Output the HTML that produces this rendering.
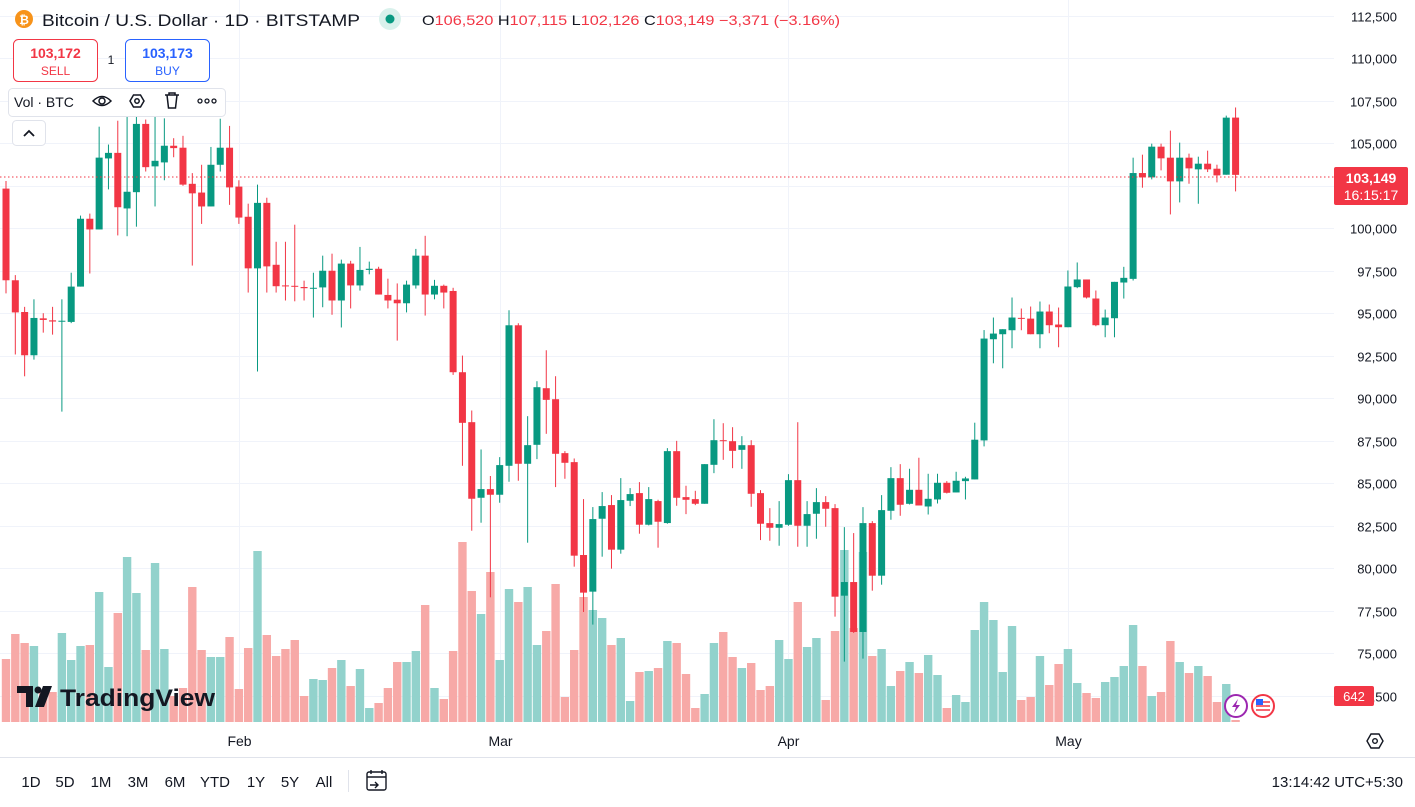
<!DOCTYPE html>
<html><head><meta charset="utf-8">
<style>
html,body{margin:0;padding:0;background:#fff;}
body{width:1415px;height:802px;overflow:hidden;font-family:"Liberation Sans",sans-serif;}
svg text{font-family:"Liberation Sans",sans-serif;}
</style></head>
<body>
<svg id="chart" width="1415" height="802" viewBox="0 0 1415 802" xmlns="http://www.w3.org/2000/svg">
  <rect x="0" y="0" width="1415" height="802" fill="#ffffff"/>
  <g id="grid"></g>
  <g id="vol"></g>
  <g id="candles"></g>
  <line x1="0" y1="177" x2="1334" y2="177" stroke="#F23645" stroke-width="1" stroke-dasharray="1.5,2.5"/>
  <g id="yaxis"></g>
  <g id="xaxis"></g>

  <!-- header -->
  <g>
    <circle cx="24" cy="19" r="9" fill="#F7931A"/>
    <text x="24" y="24" font-size="12" font-weight="bold" fill="#fff" text-anchor="middle">₿</text>
    <text x="42" y="26" font-size="17" fill="#131722" textLength="318" lengthAdjust="spacingAndGlyphs">Bitcoin / U.S. Dollar · 1D · BITSTAMP</text>
    <circle cx="390" cy="19" r="11" fill="#d9f1ec"/>
    <circle cx="390" cy="19" r="4.5" fill="#089981"/>
    <text x="422" y="25" font-size="14" fill="#F23645" textLength="418" lengthAdjust="spacingAndGlyphs"><tspan fill="#131722">O</tspan>106,520 <tspan fill="#131722">H</tspan>107,115 <tspan fill="#131722">L</tspan>102,126 <tspan fill="#131722">C</tspan>103,149 −3,371 (−3.16%)</text>
  </g>
  <g>
    <rect x="13.5" y="39.5" width="84" height="42" rx="5" fill="#fff" stroke="#F23645"/>
    <text x="55.5" y="58" font-size="14" font-weight="bold" fill="#F23645" text-anchor="middle">103,172</text>
    <text x="55.5" y="75" font-size="12" fill="#F23645" text-anchor="middle">SELL</text>
  </g>
  <text x="111" y="64" font-size="12" fill="#131722" text-anchor="middle">1</text>
  <g>
    <rect x="125.5" y="39.5" width="84" height="42" rx="5" fill="#fff" stroke="#2962FF"/>
    <text x="167.5" y="58" font-size="14" font-weight="bold" fill="#2962FF" text-anchor="middle">103,173</text>
    <text x="167.5" y="75" font-size="12" fill="#2962FF" text-anchor="middle">BUY</text>
  </g>
  <g>
    <rect x="8.5" y="88.5" width="217" height="28" rx="4" fill="#fff" stroke="#e0e3eb"/>
    <text x="14" y="107" font-size="14" fill="#131722">Vol · BTC</text>
    <g fill="none" stroke="#131722" stroke-width="1.5">
      <path d="M93 101 Q102 92 111 101 Q102 110 93 101 Z"/><circle cx="102" cy="101" r="3"/>
    </g>
    <g fill="none" stroke="#131722" stroke-width="1.5">
      <polygon points="130,101 133.5,95 140.5,95 144,101 140.5,107 133.5,107"/><circle cx="137" cy="101" r="2.2"/>
    </g>
    <g fill="none" stroke="#131722" stroke-width="1.5">
      <path d="M165 95 H179 M169 95 V93 H175 V95 M167 95 L168.5 108 H175.5 L177 95"/>
    </g>
    <g fill="none" stroke="#131722" stroke-width="1.3">
      <circle cx="200" cy="101" r="2"/><circle cx="207" cy="101" r="2"/><circle cx="214" cy="101" r="2"/>
    </g>
  </g>
  <g>
    <rect x="12.5" y="120.5" width="33" height="25" rx="4" fill="#fff" stroke="#e0e3eb"/>
    <path d="M24 136 L29 131 L34 136" fill="none" stroke="#131722" stroke-width="1.8"/>
  </g>

  <!-- last price label -->
  <g>
    <rect x="1334" y="167" width="74" height="38" rx="2" fill="#F23645"/>
    <text x="1371" y="183" font-size="14" font-weight="bold" fill="#fff" text-anchor="middle">103,149</text>
    <text x="1371" y="200" font-size="14" fill="#fff" text-anchor="middle">16:15:17</text>
  </g>
  <g>
    <rect x="1334" y="686" width="40" height="20" rx="2" fill="#F23645"/>
    <text x="1354" y="701" font-size="13" fill="#fff" text-anchor="middle">642</text>
  </g>

  <!-- TradingView logo -->
  <g>
    <path d="M17 686 H33 V707 H26 V693 H17 Z" fill="#131722"/>
    <circle cx="38" cy="690" r="3.5" fill="#131722"/>
    <path d="M43 686 H52 L44 707 H35 Z" fill="#131722"/>
    <text x="60" y="706" font-size="24" font-weight="bold" fill="#131722" textLength="155" lengthAdjust="spacingAndGlyphs">TradingView</text>
  </g>
  <g>
    <circle cx="1236" cy="706" r="11" fill="#fff" stroke="#9C27B0" stroke-width="2"/>
    <path d="M1238 699 L1232 707 H1236 L1234 713 L1240 705 H1236 Z" fill="#9C27B0"/>
  </g>
  <g>
    <circle cx="1263" cy="706" r="11" fill="#fff" stroke="#F23645" stroke-width="2"/>
    <rect x="1256" y="700" width="14" height="12" fill="#fff"/>
    <path d="M1256 702 H1270 M1256 706 H1270 M1256 710 H1270" stroke="#F23645" stroke-width="1.5"/>
    <rect x="1256" y="699" width="7" height="6" fill="#2962FF"/>
  </g>

  <!-- bottom toolbar -->
  <line x1="0" y1="757.5" x2="1415" y2="757.5" stroke="#e0e3eb"/>
  <g font-size="15" fill="#131722">
    <text x="31" y="787" text-anchor="middle">1D</text>
    <text x="65" y="787" text-anchor="middle">5D</text>
    <text x="101" y="787" text-anchor="middle">1M</text>
    <text x="138" y="787" text-anchor="middle">3M</text>
    <text x="175" y="787" text-anchor="middle">6M</text>
    <text x="215" y="787" text-anchor="middle">YTD</text>
    <text x="256" y="787" text-anchor="middle">1Y</text>
    <text x="290" y="787" text-anchor="middle">5Y</text>
    <text x="324" y="787" text-anchor="middle">All</text>
  </g>
  <line x1="348.5" y1="770" x2="348.5" y2="792" stroke="#e0e3eb"/>
  <g fill="none" stroke="#131722" stroke-width="1.4">
    <rect x="367" y="772" width="19" height="18" rx="2"/><path d="M367 777 H386 M371 770 V774 M382 770 V774 M370 785 H378 M375 782 L378 785 L375 788"/>
  </g>
  <text x="1403" y="787" font-size="15" fill="#131722" text-anchor="end">13:14:42 UTC+5:30</text>
  <g fill="none" stroke="#131722" stroke-width="1.4">
    <polygon points="1367,741 1371,734 1379,734 1383,741 1379,748 1371,748"/><circle cx="1375" cy="741" r="2.3"/>
  </g>
</svg>
<script>
// ---- data ----
const opens  = [102340,96944,95076,92530,94702,94585,94538,94492,96571,100565,99935,104116,104443,101172,102130,106148,103649,103882,104863,104747,102621,102107,101289,103742,104747,102457,100682,97645,101500,97855,96641,96618,96547,96454,96524,97505,95753,97925,96641,97552,97622,96080,95800,95590,96641,98393,96104,96618,96314,91531,88591,84142,84651,84318,86023,94294,86141,87258,90590,89943,86768,86239,80771,78614,82907,83711,81085,83965,84416,82554,83946,82652,86884,84179,84061,83787,86080,87530,87472,86962,87236,84414,82650,82375,82552,85178,82493,83199,83885,83532,78377,79180,76241,82650,79553,83375,85296,83785,84610,83628,84041,85023,84453,85121,85219,87518,93472,93767,94003,94730,94686,93767,95103,94337,94180,96538,96990,95870,94298,94710,96811,97027,103256,103000,104808,104160,102765,104160,103472,103806,103511,103157,106520];
const highs  = [102785,97248,95379,95823,95005,95379,95823,97388,100752,100869,105985,104934,106335,106756,106989,106405,106756,106475,105307,105447,103252,103742,104793,106452,106031,102831,101453,102574,101803,99210,99210,100215,96921,97388,98393,98510,98159,98089,98907,98042,97739,97038,96758,96921,98790,99561,96968,96688,96501,92511,89277,86984,85422,86533,95176,94412,88944,91002,92824,91296,86886,86454,84063,83593,84475,84299,85298,84710,85063,84769,84024,87062,87491,84845,84551,86120,88765,88530,88295,87766,87530,84590,83532,83944,85531,88589,83944,84708,84238,83767,82415,82062,83591,82768,84297,85943,86120,85848,86497,85553,85553,85121,85671,85376,88560,94013,94750,94062,95929,95280,95398,95693,95516,95339,97520,97992,96990,96341,95221,96851,97735,104160,104337,104985,104985,105752,105046,104396,104219,104573,103747,106636,107115];
const lows   = [96173,92576,91291,92272,93861,93744,89212,94422,96571,97342,99935,102294,99584,99537,100098,103345,101289,102831,104186,102504,97809,100262,101289,103345,101383,100262,96220,91572,96220,96220,95753,95706,95753,94749,95356,94912,94165,95286,96337,97295,96104,95286,93393,95052,96454,94865,95823,95286,91374,86023,82201,82672,78281,83848,85083,85142,81496,86415,87905,84769,85259,80085,77417,76674,80673,79967,80849,83652,82025,82514,81202,82613,83669,83179,83708,83787,85590,86374,85884,85845,83610,81650,81611,81317,82493,81258,81258,81729,82434,77142,74496,76182,74673,78671,79024,82846,83081,83746,83687,83156,83805,84394,84453,84041,85219,87165,92057,91763,92942,94003,93767,92942,93826,93001,94180,96479,95870,94239,93590,93588,95868,96929,102392,102883,103413,100820,101527,102627,101448,103314,102706,103157,102175];
const closes = [96944,95052,92530,94725,94608,94515,94562,96571,100565,99935,104163,104443,101243,102154,106148,103602,103976,104863,104723,102574,102060,101289,103742,104747,102411,100635,97645,101500,97762,96594,96594,96594,96477,96501,97505,95753,97925,96641,97552,97622,96104,95753,95590,96688,98393,96104,96618,96220,91531,88552,84083,84651,84318,86064,94294,86141,87238,90649,89904,86729,86200,80732,78556,82887,83652,81085,84005,84358,82554,84063,82730,86886,84140,84022,83787,86120,87530,87491,86903,87236,84375,82611,82375,82591,85178,82493,83180,83885,83493,78318,79180,76241,82650,79553,83414,85296,83728,84610,83687,84080,85023,84434,85141,85278,87558,93512,93806,94062,94750,94710,93767,95103,94298,94180,96577,96990,95929,94298,94750,96851,97086,103256,103000,104808,104121,102765,104160,103531,103806,103472,103118,106517,103149];
const volumes = [63,88,79,76,30,30,89,62,76,77,130,55,109,165,129,72,159,73,26,34,135,72,65,65,85,33,74,171,87,66,73,82,26,43,42,54,62,36,53,14,19,34,60,60,71,117,34,23,71,180,131,108,150,62,133,120,135,77,91,138,25,72,125,112,104,77,84,21,50,51,54,81,79,48,14,28,79,90,65,54,59,32,36,82,63,120,75,84,22,91,172,94,170,66,73,36,51,60,49,67,47,14,27,20,92,120,102,50,96,22,25,66,37,58,73,39,29,24,40,45,56,97,56,26,30,81,60,49,56,46,20,38,2];
const priceTicks = [72500,75000,77500,80000,82500,85000,87500,90000,92500,95000,97500,100000,102500,105000,107500,110000,112500];
const monthLabels = ["Feb","Mar","Apr","May"];
const monthIndex = [25,53,84,114]; // candle index of the 1st of each month

// ---- scales ----
const NS = "http://www.w3.org/2000/svg";
const yPrice = p => 16 + (112500 - p) * 0.016988;
const xIdx = i => 6 + i * 9.315;
const yVol = v => 722 - v;
function mk(tag, attrs, parent){ const e=document.createElementNS(NS,tag); for(const k in attrs) e.setAttribute(k,attrs[k]); parent.appendChild(e); return e; }

const grid = document.getElementById('grid');
const yaxis = document.getElementById('yaxis');
priceTicks.forEach(p=>{
  const y = Math.round(yPrice(p))+0.5;
  const gl = mk('line',{x1:0,y1:y,x2:1334,y2:y,stroke:'#f0f3fa','stroke-width':1},grid);
  
  
  const t = mk('text',{x:1397,y:y+5,'font-size':13,fill:'#131722','text-anchor':'end'},yaxis);
  t.textContent = p.toLocaleString('en-US');
  
  
});
const xaxis = document.getElementById('xaxis');
monthLabels.forEach((m,k)=>{
  const x = Math.round(xIdx(monthIndex[k]))+0.5;
  const gl = mk('line',{x1:x,y1:0,x2:x,y2:722,stroke:'#f0f3fa','stroke-width':1},grid);
  
  
  const t = mk('text',{x:x,y:746,'font-size':14,fill:'#131722','text-anchor':'middle'},xaxis);
  t.textContent = m;
  
  
});

const volG = document.getElementById('vol');
volumes.forEach((v,i)=>{
  const up = closes[i] >= opens[i];
  const x = xIdx(i);
  const r = mk('rect',{x:(x-4.2).toFixed(2),y:yVol(v).toFixed(2),width:8.4,height:Math.max(0,722-yVol(v)).toFixed(2),fill: up?'#92d2cc':'#f7a9a7'},volG);
  
  
});

const cG = document.getElementById('candles');
opens.forEach((o,i)=>{
  const c = closes[i], h = highs[i], l = lows[i];
  const up = c >= o;
  const col = up ? '#089981' : '#F23645';
  const x = xIdx(i);
  const g = mk('g',{},cG);
  
  
  mk('line',{x1:x.toFixed(2),x2:x.toFixed(2),y1:yPrice(h).toFixed(2),y2:yPrice(l).toFixed(2),stroke:col,'stroke-width':1},g);
  const top = yPrice(Math.max(o,c)), bot = yPrice(Math.min(o,c));
  mk('rect',{x:(x-3.5).toFixed(2),y:top.toFixed(2),width:7,height:Math.max(1,bot-top).toFixed(2),fill:col},g);
});
</script>
</body></html>
